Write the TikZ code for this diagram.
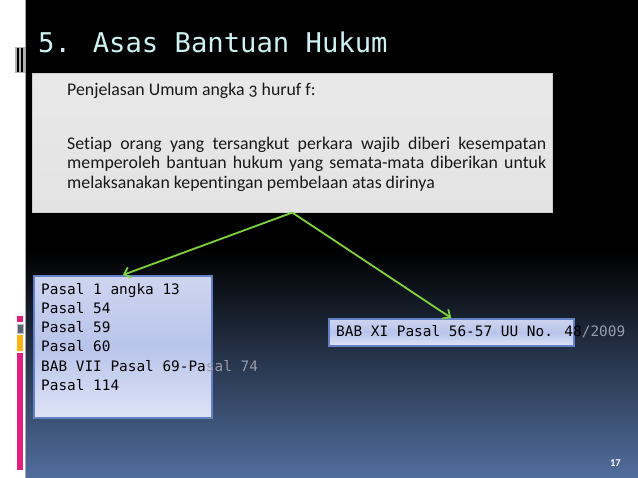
\documentclass[tikz,border=0pt]{standalone}
\usepackage{fontspec}
\usetikzlibrary{arrows.meta}
\newfontfamily\titlefont{DejaVu Sans Mono}
\newfontfamily\codefont{DejaVu Sans Mono}
\newfontfamily\bodyfont[Numbers=OldStyle,Ligatures=NoCommon]{Carlito}
\newfontfamily\numfont{Carlito}
\definecolor{titlecyan}{RGB}{205,242,242}
\definecolor{bgblue}{RGB}{82,110,158}
\definecolor{bgmid}{RGB}{22,28,44}
\definecolor{boxborder}{RGB}{100,128,196}
\definecolor{boxtop}{RGB}{206,213,240}
\definecolor{boxmid}{RGB}{184,196,234}
\definecolor{boxbot}{RGB}{222,227,246}
\definecolor{arrowgreen}{RGB}{126,210,60}
\definecolor{overflow}{RGB}{150,156,172}
\definecolor{barpink}{RGB}{226,30,126}
\definecolor{baryellow}{RGB}{250,180,20}
\definecolor{barslate}{RGB}{90,100,120}
\tikzset{
  x=1pt, y=-1pt,
  listbox/.style={draw=boxborder, line width=1.6pt, top color=boxtop, bottom color=boxbot, middle color=boxmid, inner sep=0pt, anchor=north west},
  codetext/.style={font=\codefont\fontsize{14.4}{19.2}\selectfont, text=black, align=left, inner sep=0pt},
  link/.style={draw=arrowgreen, line width=1.8pt, -{Straight Barb[length=6pt,width=11pt,line width=1.8pt]}},
}
\begin{document}
\begin{tikzpicture}
\useasboundingbox (0,0) rectangle (638,478);
% background
\fill[white] (0,0) rectangle (25,478);
\fill[black] (25,0) rectangle (638,250);
\shade[top color=black, middle color=bgmid, bottom color=bgblue] (25,250) rectangle (638,478);
\draw[gray!70, line width=1pt] (25.5,0) -- (25.5,478);
% decorations on left strip
\fill[gray!60] (15,47) rectangle (25,73);
\fill[black] (17,48) rectangle (19,72);
\fill[black] (21,48) rectangle (23,72);
\fill[barpink] (17,316) rectangle (23,322);
\fill[barslate] (17,324) rectangle (23,333);
\draw[gray!50, line width=0.6pt] (17,324) rectangle (23,333);
\fill[baryellow] (17,335) rectangle (23,351);
\fill[barpink] (17,353) rectangle (23,470);
% title
\node[font=\titlefont\fontsize{27.2}{30}\selectfont, text=titlecyan, anchor=base west, inner sep=0pt] (title) at (38,53) {5. Asas Bantuan Hukum};
% explanation box
\node[draw=gray!40, line width=0.6pt, top color=gray!18, middle color=gray!55, bottom color=gray!22, minimum width=520pt, minimum height=139pt, anchor=north west, inner sep=0pt] (expl) at (32,73) {};
\node[font=\bodyfont\fontsize{17.8}{19.2}\selectfont, text=black!90, text width=479pt, align=justify, anchor=north west, inner sep=0pt] (expltext) at (67,83)
{\hyphenpenalty=10000\exhyphenpenalty=10000 Penjelasan Umum angka 3 huruf f:\par\vspace{35pt}Setiap orang yang tersangkut perkara wajib diberi kesempatan memperoleh bantuan hukum yang semata-mata diberikan untuk melaksanakan kepentingan pembelaan atas dirinya};
% left list box
\node[listbox, minimum width=178pt, minimum height=142pt] (left) at (33,275) {};
\node[codetext, anchor=north west] (lefttext) at (41,283) {Pasal 1 angka 13\\Pasal 54\\Pasal 59\\Pasal 60\\BAB VII Pasal 69-Pa\textcolor{overflow}{sal 74}\\Pasal 114};
% right box
\node[listbox, minimum width=245pt, minimum height=27pt] (right) at (328,318) {};
\node[codetext, anchor=base west] (righttext) at (336,337) {BAB XI Pasal 56-57 UU No. 48\textcolor{overflow}{/2009}};
% connectors
\draw[link] (expl.south) -- (left.north);
\draw[link] (expl.south) -- (right.north);
% page number
\node[font=\numfont\bfseries\fontsize{10.5}{12}\selectfont, text=white, anchor=base east, inner sep=0pt] (pagenum) at (621,467) {17};
\end{tikzpicture}
\end{document}
